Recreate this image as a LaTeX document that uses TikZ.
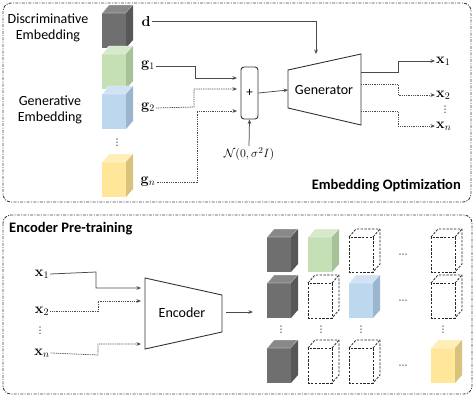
\documentclass[tikz,border=0pt]{standalone}
\usepackage[no-math]{fontspec}
\setmainfont{Carlito}
\newfontfamily\dejavu{DejaVu Sans}
\usetikzlibrary{arrows.meta,calc}
\definecolor{gfront}{HTML}{6F6F6F}\definecolor{gside}{HTML}{575757}\definecolor{gtop}{HTML}{888888}
\definecolor{nfront}{HTML}{C5E0B4}\definecolor{nside}{HTML}{A7C198}\definecolor{ntop}{HTML}{D7E9CB}
\definecolor{bfront}{HTML}{BDD7EE}\definecolor{bside}{HTML}{9BB5CF}\definecolor{btop}{HTML}{D0E2F3}
\definecolor{yfront}{HTML}{FFE699}\definecolor{yside}{HTML}{D8C27C}\definecolor{ytop}{HTML}{FFEEB8}
\definecolor{linec}{HTML}{4A4A4A}
\newcommand\fcube[5]{%
  \fill[#3] (#1,#2) rectangle ++(24,35);
  \fill[#5,draw=white,line width=0.4pt] (#1,#2) -- ++(7,-8) -- ++(24,0) -- ++(-7,8) -- cycle;
  \fill[#4] (#1+24,#2) -- ++(7,-8) -- ++(0,35) -- ++(-7,8) -- cycle;
}
\newcommand\dcube[2]{%
  \draw[dashc] (#1,#2) rectangle ++(24,35);
  \draw[dashc] (#1,#2) -- ++(7,-8) -- ++(24,0) -- ++(0,35) -- ++(-7,8);
  \draw[dashc] (#1+24,#2) -- ++(7,-8);
}
\tikzset{
  panel/.style={draw=black!75,line width=0.9pt,rounded corners=8pt,dash pattern=on 3pt off 1.3pt on 1pt off 1.3pt},
  dashc/.style={draw=black!85,line width=0.8pt,dash pattern=on 2.4pt off 1.4pt},
  arr/.style={draw=linec,line width=0.75pt,-{Stealth[length=4.5pt,width=3.6pt]}},
  darr/.style={arr,dash pattern=on 1pt off 0.8pt},
  trap/.style={draw=black!80,line width=0.9pt},
  lab/.style={font=\fontsize{14}{16}\selectfont,align=center,inner sep=0pt},
  blab/.style={font=\fontsize{14.5}{16}\selectfont\bfseries,inner sep=0pt},
  mlab/.style={font=\fontsize{14}{14}\selectfont,inner sep=1pt},
  vd/.style={font=\dejavu\fontsize{9}{9}\selectfont,inner sep=0pt},
  hd/.style={font=\dejavu\fontsize{9}{9}\selectfont,inner sep=0pt},
  plusbox/.style={draw=black!80,line width=0.9pt,rounded corners=3pt,minimum width=17pt,minimum height=52pt,inner sep=0pt,font=\fontsize{13}{13}\selectfont}
}
\begin{document}
\begin{tikzpicture}[x=1pt,y=-1pt]
\useasboundingbox (0,0) rectangle (474,416);
% panels
\draw[panel] (3,3) rectangle (471,202);
\draw[panel] (3,215) rectangle (472,394);
% ---------- top panel ----------
\node[lab] (disc) at (48,28) {Discriminative\\Embedding};
\node[lab] (gen) at (50,110) {Generative\\Embedding};
\fcube{102}{13}{gfront}{gside}{gtop}
\fcube{102}{54}{nfront}{nside}{ntop}
\fcube{102}{94}{bfront}{bside}{btop}
\node[vd] (stackdots) at (117,143) {⋮};
\fcube{102}{162}{yfront}{yside}{ytop}
\node[mlab] (d) at (146,21) {$\mathbf{d}$};
\node[mlab] (g1) at (148,66) {$\mathbf{g}_1$};
\node[mlab] (g2) at (148,108) {$\mathbf{g}_2$};
\node[mlab] (gn) at (148,182) {$\mathbf{g}_n$};
% plus box
\node[plusbox] (plus) at (249.5,93) {+};
\node[inner sep=1pt,font=\fontsize{13}{13}\selectfont] (noise) at (249,154) {$\mathcal{N}(0,\sigma^2 I)$};
% generator
\draw[trap] (288,70) -- (361,54) -- (361,125) -- (288,108) -- cycle;
\node[lab] (gentext) at (324,90) {Generator};
\coordinate (gtop) at (316,54);
\coordinate (gin) at (288,90);
\coordinate (go1) at (361,72);
\coordinate (go2) at (361,84);
\coordinate (gon) at (361,111);
% connectors
\draw[arr] (d.east) -| (gtop);
\draw[arr] (g1.east) -- (195,66) |- (237,78);
\draw[darr] (g2.east) -- (194,107) |- (237,89);
\draw[darr] (gn.east) -- (197,182) |- (237,111);
\draw[arr] (noise.north) -- (plus.south);
\draw[arr] (plus.east) -- (gin);
\node[mlab,anchor=west] (x1) at (435,61) {$\mathbf{x}_1$};
\node[mlab,anchor=west] (x2) at (435,95) {$\mathbf{x}_2$};
\node[vd] (xdots) at (445,110) {⋮};
\node[mlab,anchor=west] (xn) at (435,126) {$\mathbf{x}_n$};
\draw[arr] (go1) -- (398,72) |- (x1.west);
\draw[darr] (go2) -- (398,84) |- (x2.west);
\draw[darr] (gon) -- (398,111) |- (xn.west);
\node[blab,anchor=east] (eo) at (461,186) {Embedding Optimization};
% ---------- bottom panel ----------
\node[blab,anchor=west] (ep) at (9,229) {Encoder Pre-training};
\node[mlab] (bx1) at (42,274) {$\mathbf{x}_1$};
\node[mlab] (bx2) at (42,311) {$\mathbf{x}_2$};
\node[vd] (bxdots) at (40,331) {⋮};
\node[mlab] (bxn) at (42,353) {$\mathbf{x}_n$};
\draw[trap] (145,278) -- (222,295) -- (222,332) -- (145,349) -- cycle;
\node[lab] (enctext) at (182,313) {Encoder};
\draw[arr] (bx1.east) -- (96,272) |- (141,288);
\draw[darr] (bx2.east) -- (98,311) |- (141,301);
\draw[darr] (bxn.east) -- (98,355) |- (141,344);
\coordinate (eout) at (226,312);
\coordinate (gridin) at (253,312);
\draw[arr] (eout) -- (gridin);
% grid
\fcube{267}{237}{gfront}{gside}{gtop}
\fcube{308}{237}{nfront}{nside}{ntop}
\dcube{349}{237}
\dcube{431}{237}
\fcube{267}{283}{gfront}{gside}{gtop}
\dcube{308}{283}
\fcube{349}{283}{bfront}{bside}{btop}
\dcube{431}{283}
\fcube{267}{348}{gfront}{gside}{gtop}
\dcube{308}{348}
\dcube{349}{348}
\fcube{431}{348}{yfront}{yside}{ytop}
\node[hd] (r1d) at (403,256) {⋯};
\node[hd] (r2d) at (403,302) {⋯};
\node[hd] (r3d) at (403,367) {⋯};
\node[vd] (c1d) at (281,330) {⋮};
\node[vd] (c2d) at (321,330) {⋮};
\node[vd] (c3d) at (361,330) {⋮};
\node[vd] (c5d) at (443,330) {⋮};
\end{tikzpicture}
\end{document}
